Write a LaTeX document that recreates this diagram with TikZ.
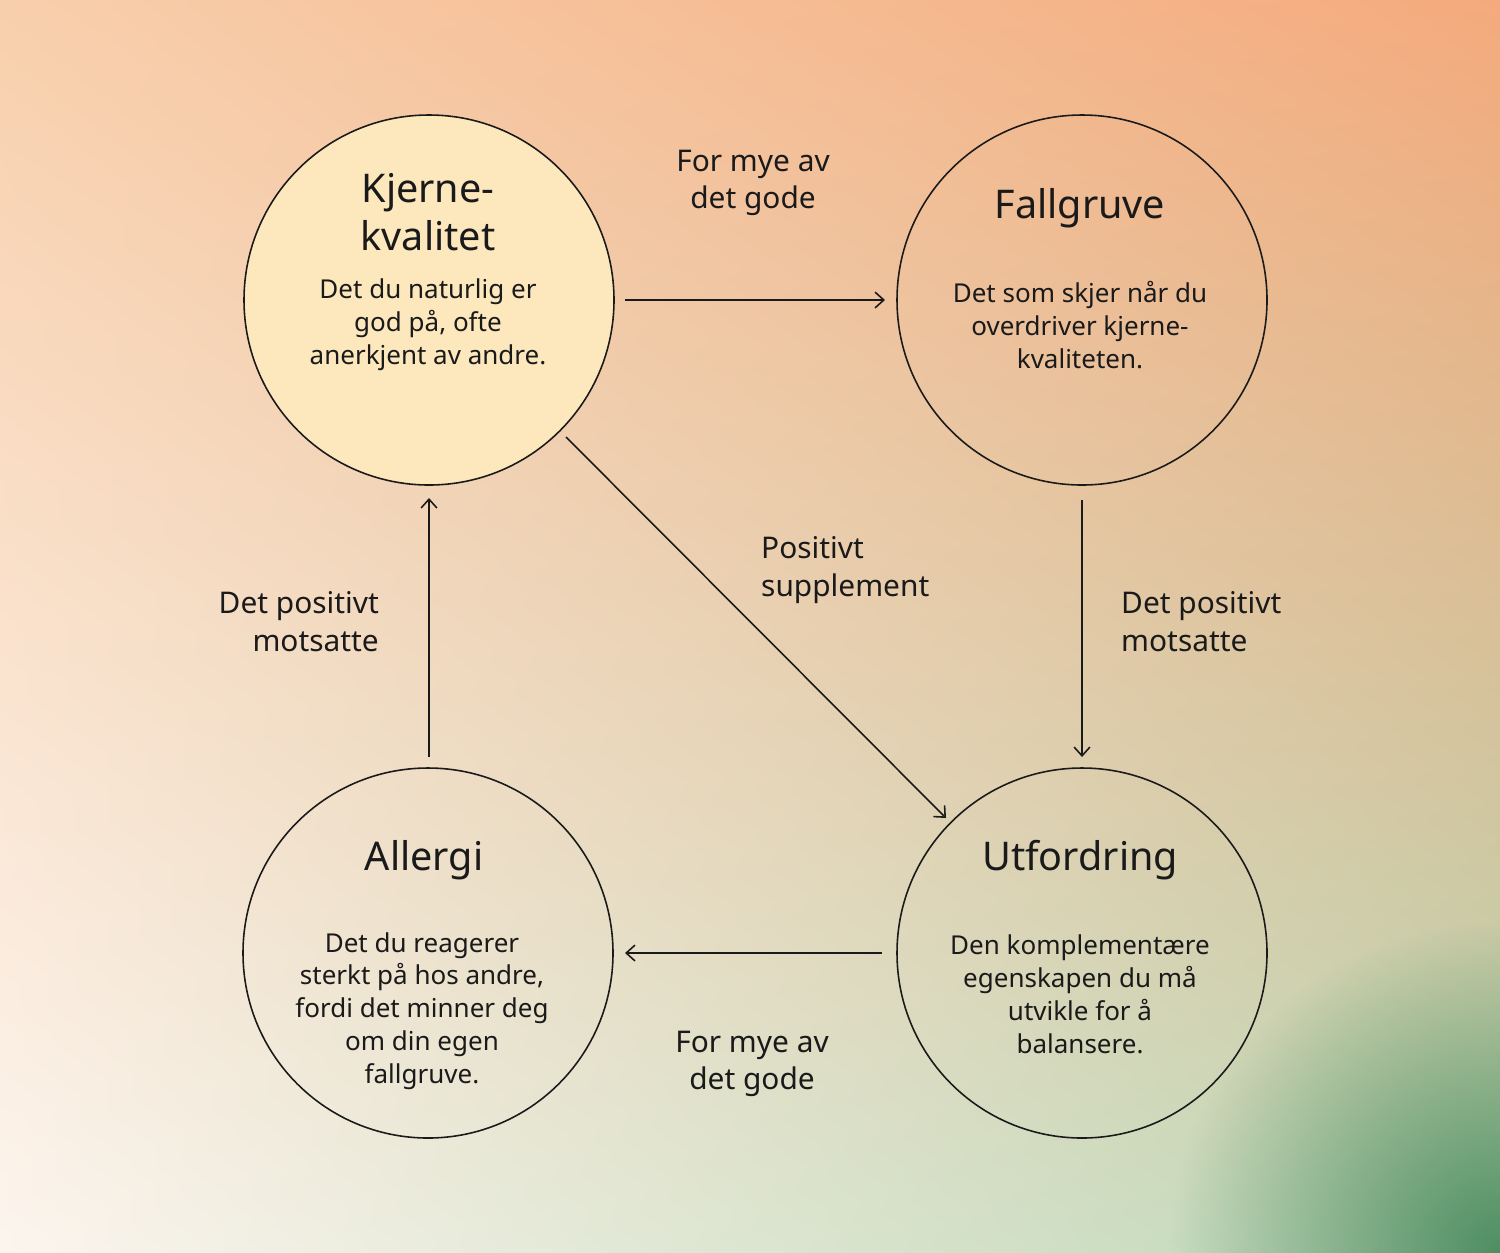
\documentclass[tikz,border=0pt]{standalone}
\usepackage{fontspec}
\setmainfont{Noto Sans}
\usetikzlibrary{arrows.meta,fadings,shadings}
\definecolor{bgTL}{HTML}{F8CFAC}
\definecolor{bgTR}{HTML}{F4AA7C}
\definecolor{bgBL}{HTML}{FCF5EE}
\definecolor{bgBR}{HTML}{BCD6B4}
\definecolor{deepgreen}{HTML}{4F8E62}
\definecolor{corefill}{HTML}{FDE8BE}
\definecolor{ink}{HTML}{1A1A1A}
\tikzfading[name=radfade, inner color=transparent!0, outer color=transparent!100]
\tikzset{
  circ/.style={circle,draw=ink,line width=0.9pt,minimum size=370*0.02cm,inner sep=0pt},
  ttl/.style={align=center,text=ink,font=\fontsize{22.5}{27}\selectfont},
  body/.style={align=center,text=ink,font=\fontsize{14.8}{18.7}\selectfont},
  lbl/.style={text=ink,font=\fontsize{17}{21.5}\selectfont},
  arr/.style={-{Straight Barb[length=5pt,width=9pt]},draw=ink,line width=0.9pt}
}
\begin{document}
\begin{tikzpicture}[x=0.02cm,y=-0.02cm]
\useasboundingbox (0,0) rectangle (1500,1252);
\shade[upper left=bgTL,upper right=bgTR,lower left=bgBL,lower right=bgBR] (0,0) rectangle (1500,1252);
\fill[deepgreen,path fading=radfade] (1500,1252) circle (330);
\node[circ,fill=corefill] (kq) at (429,300) {};
\node[circ] (fg) at (1082,300) {};
\node[circ] (al) at (428,953) {};
\node[circ] (ut) at (1082,953) {};
\node[ttl] (kqt) at (428,212) {Kjerne-\\kvalitet};
\node[body] (kqb) at (428,325) {Det du naturlig er\\god på, ofte\\anerkjent av andre.};
\node[ttl] (fgt) at (1080,208) {Fallgruve};
\node[body] (fgb) at (1080,325) {Det som skjer når du\\overdriver kjerne-\\kvaliteten.};
\node[ttl] (alt) at (424,860) {Allergi};
\node[body] (alb) at (422,1011) {Det du reagerer\\sterkt på hos andre,\\fordi det minner deg\\om din egen\\fallgruve.};
\node[ttl] (utt) at (1080,860) {Utfordring};
\node[body] (utb) at (1080,994) {Den komplementære\\egenskapen du må\\utvikle for å\\balansere.};
\coordinate (a1) at (625,300); \coordinate (a2) at (885,300);
\coordinate (b1) at (1082,500); \coordinate (b2) at (1082,757);
\coordinate (c1) at (882,953); \coordinate (c2) at (625,953);
\coordinate (d1) at (429,757); \coordinate (d2) at (429,498);
\coordinate (e1) at (566,437); \coordinate (e2) at (946,818);
\draw[arr] (a1) -- (a2);
\draw[arr] (b1) -- (b2);
\draw[arr] (c1) -- (c2);
\draw[arr] (d1) -- (d2);
\draw[arr] (e1) -- (e2);
\node[lbl,align=center] (l1) at (753,183) {For mye av\\det gode};
\node[lbl,align=center] (l2) at (752,1064) {For mye av\\det gode};
\node[lbl,align=left,anchor=west] (l3) at (755,570) {Positivt\\supplement};
\node[lbl,align=right,anchor=east] (l4) at (385,622) {Det positivt\\motsatte};
\node[lbl,align=left,anchor=west] (l5) at (1115,622) {Det positivt\\motsatte};
\end{tikzpicture}
\end{document}
